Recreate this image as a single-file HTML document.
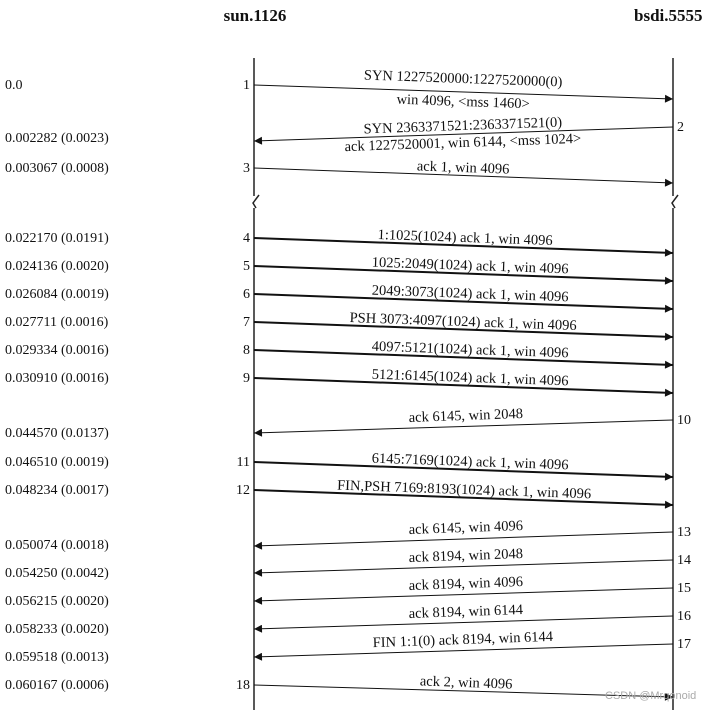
<!DOCTYPE html>
<html><head><meta charset="utf-8"><style>
html,body{margin:0;padding:0;background:#fff;}
svg{display:block;font-family:"Liberation Serif",serif;}
text{fill:#111;}
.t{font-size:14px;}
.l{font-size:14.5px;}
.n{font-size:14px;}
</style></head><body>
<svg width="720" height="710" viewBox="0 0 720 710" xmlns="http://www.w3.org/2000/svg">
<defs>
<marker id="a" viewBox="0 0 10 10" refX="10" refY="5" markerWidth="16" markerHeight="8" markerUnits="userSpaceOnUse" orient="auto"><path d="M0,0 L10,5 L0,10 z" fill="#111"/></marker>
</defs>
<text x="255" y="21" font-size="17" font-weight="bold" text-anchor="middle">sun.1126</text>
<text x="634" y="21" font-size="17" font-weight="bold">bsdi.5555</text>
<!-- lifelines -->
<g stroke="#222" stroke-width="1.5" fill="none">
<path d="M254 58 V196 M254 208 V710"/>
<path d="M673 58 V196 M673 208 V710"/>
<path d="M259 195 L253 203 L256 208"/>
<path d="M678 195 L672 203 L675 208"/>
</g>
<!-- arrows -->
<g stroke="#111" fill="none">
<line x1="254" y1="85" x2="673" y2="99" stroke-width="1" marker-end="url(#a)"/>
<line x1="673" y1="127" x2="254" y2="141" stroke-width="1" marker-end="url(#a)"/>
<line x1="254" y1="168" x2="673" y2="183" stroke-width="1" marker-end="url(#a)"/>
<line x1="254" y1="238" x2="673" y2="253" stroke-width="2" marker-end="url(#a)"/>
<line x1="254" y1="266" x2="673" y2="281" stroke-width="2" marker-end="url(#a)"/>
<line x1="254" y1="294" x2="673" y2="309" stroke-width="2" marker-end="url(#a)"/>
<line x1="254" y1="322" x2="673" y2="337" stroke-width="2" marker-end="url(#a)"/>
<line x1="254" y1="350" x2="673" y2="365" stroke-width="2" marker-end="url(#a)"/>
<line x1="254" y1="378" x2="673" y2="393" stroke-width="2" marker-end="url(#a)"/>
<line x1="673" y1="420" x2="254" y2="433" stroke-width="1" marker-end="url(#a)"/>
<line x1="254" y1="462" x2="673" y2="477" stroke-width="2" marker-end="url(#a)"/>
<line x1="254" y1="490" x2="673" y2="505" stroke-width="2" marker-end="url(#a)"/>
<line x1="673" y1="532" x2="254" y2="546" stroke-width="1" marker-end="url(#a)"/>
<line x1="673" y1="560" x2="254" y2="573" stroke-width="1" marker-end="url(#a)"/>
<line x1="673" y1="588" x2="254" y2="601" stroke-width="1" marker-end="url(#a)"/>
<line x1="673" y1="616" x2="254" y2="629" stroke-width="1" marker-end="url(#a)"/>
<line x1="673" y1="644" x2="254" y2="657" stroke-width="1" marker-end="url(#a)"/>
<line x1="254" y1="685" x2="673" y2="697" stroke-width="1" marker-end="url(#a)"/>
</g>
<!-- labels -->
<g class="l" text-anchor="middle">
<text transform="translate(463,83) rotate(2)">SYN  1227520000:1227520000(0)</text>
<text transform="translate(463,106) rotate(2)">win 4096, &lt;mss 1460&gt;</text>
<text transform="translate(463,130) rotate(-2)">SYN  2363371521:2363371521(0)</text>
<text transform="translate(463,147) rotate(-2)">ack 1227520001, win 6144, &lt;mss 1024&gt;</text>
<text transform="translate(463,172) rotate(2)">ack 1, win 4096</text>
<text transform="translate(465,242) rotate(2)">1:1025(1024) ack 1, win 4096</text>
<text transform="translate(470,270) rotate(2)">1025:2049(1024) ack 1, win 4096</text>
<text transform="translate(470,298) rotate(2)">2049:3073(1024) ack 1, win 4096</text>
<text transform="translate(463,326) rotate(2)">PSH  3073:4097(1024) ack 1, win 4096</text>
<text transform="translate(470,354) rotate(2)">4097:5121(1024) ack 1, win 4096</text>
<text transform="translate(470,382) rotate(2)">5121:6145(1024) ack 1, win 4096</text>
<text transform="translate(466,420) rotate(-2)">ack 6145, win 2048</text>
<text transform="translate(470,466) rotate(2)">6145:7169(1024) ack 1, win 4096</text>
<text transform="translate(464,494) rotate(2)">FIN,PSH  7169:8193(1024) ack 1, win 4096</text>
<text transform="translate(466,532) rotate(-2)">ack 6145, win 4096</text>
<text transform="translate(466,560) rotate(-2)">ack 8194, win 2048</text>
<text transform="translate(466,588) rotate(-2)">ack 8194, win 4096</text>
<text transform="translate(466,616) rotate(-2)">ack 8194, win 6144</text>
<text transform="translate(463,644) rotate(-2)">FIN  1:1(0) ack 8194, win 6144</text>
<text transform="translate(466,687) rotate(2)">ack 2, win 4096</text>
</g>
<!-- segment numbers -->
<g class="n" text-anchor="end">
<text x="250" y="89">1</text><text x="250" y="172">3</text>
<text x="250" y="242">4</text><text x="250" y="270">5</text><text x="250" y="298">6</text>
<text x="250" y="326">7</text><text x="250" y="354">8</text><text x="250" y="382">9</text>
<text x="250" y="466">11</text><text x="250" y="494">12</text><text x="250" y="689">18</text>
</g>
<g class="n">
<text x="677" y="131">2</text><text x="677" y="424">10</text>
<text x="677" y="536">13</text><text x="677" y="564">14</text><text x="677" y="592">15</text>
<text x="677" y="620">16</text><text x="677" y="648">17</text>
</g>
<!-- times -->
<g class="t">
<text x="5" y="89">0.0</text>
<text x="5" y="142">0.002282 (0.0023)</text>
<text x="5" y="172">0.003067 (0.0008)</text>
<text x="5" y="242">0.022170 (0.0191)</text>
<text x="5" y="270">0.024136 (0.0020)</text>
<text x="5" y="298">0.026084 (0.0019)</text>
<text x="5" y="326">0.027711 (0.0016)</text>
<text x="5" y="354">0.029334 (0.0016)</text>
<text x="5" y="382">0.030910 (0.0016)</text>
<text x="5" y="437">0.044570 (0.0137)</text>
<text x="5" y="466">0.046510 (0.0019)</text>
<text x="5" y="494">0.048234 (0.0017)</text>
<text x="5" y="549">0.050074 (0.0018)</text>
<text x="5" y="577">0.054250 (0.0042)</text>
<text x="5" y="605">0.056215 (0.0020)</text>
<text x="5" y="633">0.058233 (0.0020)</text>
<text x="5" y="661">0.059518 (0.0013)</text>
<text x="5" y="689">0.060167 (0.0006)</text>
</g>
<text x="605" y="699" font-family="Liberation Sans,sans-serif" font-size="11" style="fill:#aaa">CSDN @Mrqonoid</text>
</svg>
</body></html>
